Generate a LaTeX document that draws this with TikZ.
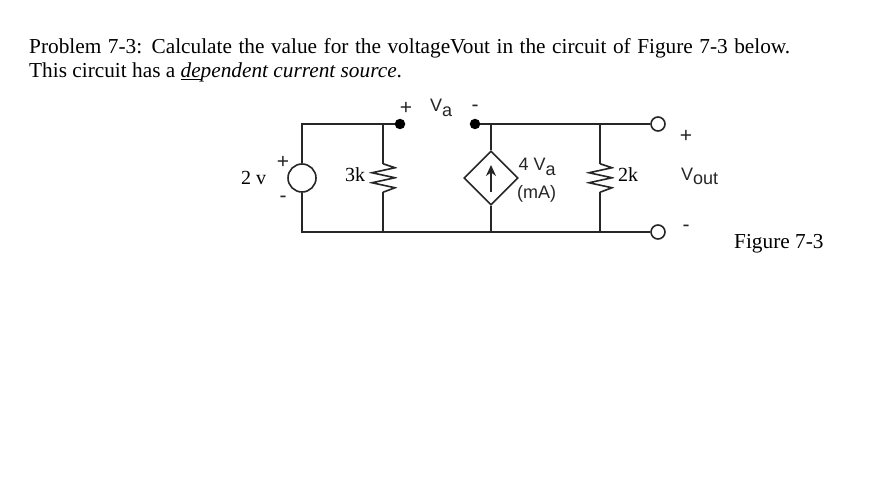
\documentclass[tikz,border=0pt]{standalone}
\usepackage{fontspec}
\setmainfont{Liberation Serif}
\setsansfont{Liberation Sans}
\usetikzlibrary{calc,shapes.geometric,arrows.meta}

\newcommand{\lowsub}[1]{\raisebox{-4.5pt}{#1}}

\tikzset{
  wire/.style={line width=1.6pt,black!85},
  dot/.style={circle,fill=black,inner sep=0pt,minimum size=10.5pt},
  terminal/.style={circle,draw=black!85,line width=1.6pt,fill=white,inner sep=0pt,minimum size=14pt},
  source/.style={circle,draw=black!85,line width=1.6pt,inner sep=0pt,minimum size=28pt},
  depsource/.style={diamond,draw=black!85,line width=1.6pt,inner sep=0pt,minimum size=54pt},
  resistor/.style={inner sep=0pt,minimum width=28pt,minimum height=28.5pt,
    path picture={\draw[wire,shift={(path picture bounding box.center)}]
      (0,14.25) -- (12,9.75) -- (-11,4.75) -- (12,-0.25) -- (-11,-5.25) -- (12,-10.25) -- (0,-14.25);}},
  prose/.style={anchor=base west,inner sep=0pt,font=\fontsize{21.3}{24}\selectfont},
  serif/.style={font=\fontsize{20}{22}\selectfont,inner sep=0pt},
  sans/.style={font=\sffamily\fontsize{18}{20}\selectfont,inner sep=0pt,text=black!85},
  sign/.style={font=\sffamily\fontsize{21}{23}\selectfont,inner sep=0pt,text=black!85},
}

\begin{document}
\begin{tikzpicture}[x=1pt,y=-1pt]
\useasboundingbox[fill=white] (0,0) rectangle (882,489);

\node[prose] (line1) at (29,54)
  {\makebox[761pt][s]{Problem 7-3: Calculate the value for the voltageVout in the circuit of Figure 7-3 below.}};
\node[prose] (line2) at (29,78)
  {This circuit has a \underline{\textit{de}}\textit{pendent current source}.};

% circuit
\node[source] (vs) at (302,178) {};
\node[resistor] (r3) at (383,178) {};
\node[dot] (dota) at (400,124) {};
\node[dot] (dotb) at (475,124) {};
\node[depsource] (cs) at (491,178) {};
\node[resistor] (r2) at (600,178) {};
\node[terminal] (outp) at (658,124) {};
\node[terminal] (outm) at (658,232) {};

\draw[wire] (vs.north) |- (dota);
\draw[wire] (vs.south) |- (outm);
\draw[wire] (dotb) -- (outp);
\draw[wire] (r3.north) -- (r3.north |- dota);
\draw[wire] (r3.south) -- (r3.south |- outm);
\draw[wire] (cs.north) -- (cs.north |- dotb);
\draw[wire] (cs.south) -- (cs.south |- outm);
\draw[wire] (r2.north) -- (r2.north |- dotb);
\draw[wire] (r2.south) -- (r2.south |- outm);
\draw[wire,-{Stealth[length=11pt,width=10pt]}] ($(cs.center)+(0,14)$) -- ($(cs.center)+(0,-13)$);

\node[serif] (lvs) at (253.5,178) {2 v};
\node[serif] (lr3) at (355,175) {3k};
\node[serif] (lr2) at (628,175) {2k};
\node[prose] (lfig) at (734,248) {Figure 7-3};
\node[sign] (vsp) at (283,162) {+};
\node[sign] (vsm) at (283,199) {-};
\node[sign] (vap) at (406,108) {+};
\node[sign] (vam) at (475,108) {-};
\node[sans,anchor=base west] (lva) at (430,112) {V\lowsub{a}};
\node[sans,anchor=base west] (lcs1) at (518.5,171) {4 V\lowsub{a}};
\node[sans] (lcs2) at (536.5,194) {(mA)};
\node[sign] (outpl) at (686,136) {+};
\node[sign] (outml) at (686,228) {-};
\node[sans,anchor=base west] (lvout) at (681,180) {V\lowsub{out}};
\end{tikzpicture}
\end{document}
